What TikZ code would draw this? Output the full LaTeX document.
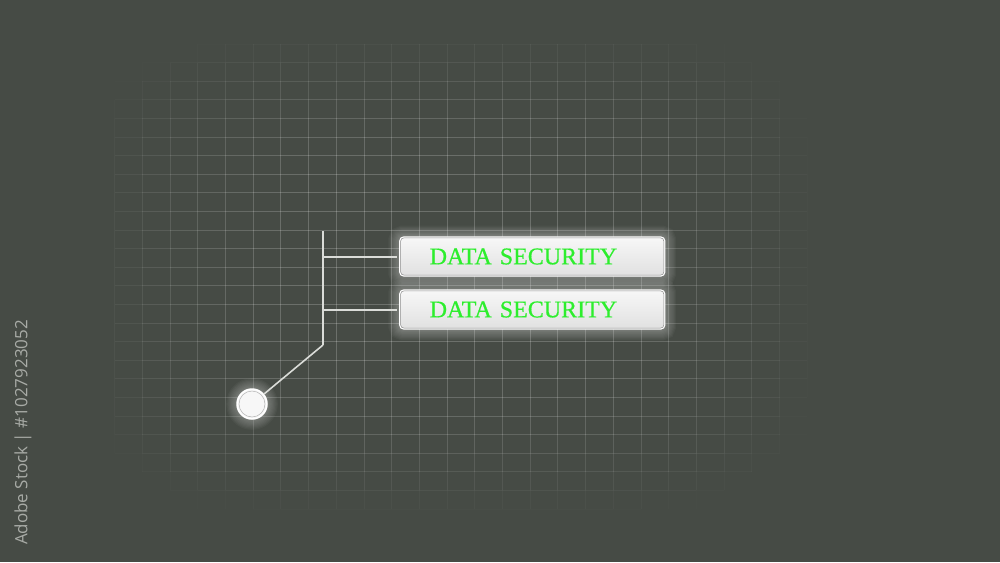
\documentclass[tikz,border=0pt]{standalone}
\usepackage{fontspec}
\setmainfont{Liberation Serif}
\newfontfamily\boxfont[FakeBold=0.6]{Liberation Serif}
\newfontfamily\sidefont{Open Sans}
\definecolor{bgc}{RGB}{70,75,69}
\definecolor{linec}{RGB}{218,220,216}
\definecolor{textgreen}{RGB}{45,238,45}
\definecolor{sidegray}{RGB}{168,171,166}
\pgfdeclarelayer{gridlayer}
\pgfdeclarelayer{glowlayer}
\pgfsetlayers{gridlayer,glowlayer,main}
\begin{document}
\begin{tikzpicture}[x=1pt,y=-1pt,
  gridline/.style={white,line width=1pt},
  wire/.style={linec,line width=1.6pt},
  databox/.style={rectangle,rounded corners=4pt,draw=white,line width=1.3pt,
    top color=white!97!black,bottom color=white!88!black,
    minimum width=265pt,minimum height=39pt,inner ysep=0pt,
    text width=205pt,inner xsep=30pt,align=left,
    font=\boxfont\fontsize{24}{26}\selectfont,text=textgreen},
  dot/.style={circle,draw=white,line width=1.5pt,fill=white!97!black,minimum size=30pt,inner sep=0pt},
  glowstroke/.style={white,opacity=0.035}
]
\useasboundingbox (0,0) rectangle (1000,562);
\begin{pgfonlayer}{gridlayer}
\fill[bgc] (0,0) rectangle (1000,562);
\foreach \i in {0,...,25}{
  \pgfmathsetmacro\gx{114.7+27.7*\i}
  \foreach \j in {0,...,24}{
    \pgfmathsetmacro\ya{44+18.6*\j}
    \pgfmathsetmacro\yb{\ya+18.6}
    \pgfmathsetmacro\gu{(\gx-450)/375}
    \pgfmathsetmacro\gv{(\ya+9.3-272)/250}
    \pgfmathsetmacro\gw{max(0,1-(\gu)*(\gu)*(\gu)*(\gu)-(\gv)*(\gv)*(\gv)*(\gv))}
    \pgfmathsetmacro\op{0.21*(\gw)^1.6}
    \draw[gridline,opacity=\op] (\gx,\ya) -- (\gx,\yb);
  }
}
\foreach \j in {0,...,25}{
  \pgfmathsetmacro\gy{44+18.6*\j}
  \foreach \i in {0,...,24}{
    \pgfmathsetmacro\xa{114.7+27.7*\i}
    \pgfmathsetmacro\xb{\xa+27.7}
    \pgfmathsetmacro\gu{(\xa+13.85-450)/375}
    \pgfmathsetmacro\gv{(\gy-272)/250}
    \pgfmathsetmacro\gw{max(0,1-(\gu)*(\gu)*(\gu)*(\gu)-(\gv)*(\gv)*(\gv)*(\gv))}
    \pgfmathsetmacro\op{0.21*(\gw)^1.6}
    \draw[gridline,opacity=\op] (\xa,\gy) -- (\xb,\gy);
  }
}
\end{pgfonlayer}

% nodes
\node[databox] (box1) at (532.25,256.5) {DATA SECURITY};
\node[databox] (box2) at (532.25,309.5) {DATA SECURITY};
\node[dot] (c) at (252,404) {};

% inner bevel lines
\draw[white!55!black,line width=0.5pt,rounded corners=3pt]
  ([shift={(1.6,1.6)}]box1.north west) rectangle ([shift={(-1.6,-1.6)}]box1.south east);
\draw[white!55!black,line width=0.5pt,rounded corners=3pt]
  ([shift={(1.6,1.6)}]box2.north west) rectangle ([shift={(-1.6,-1.6)}]box2.south east);
\draw[white!70!black,line width=0.5pt] (c.center) circle[radius=13];

% glows
\begin{pgfonlayer}{glowlayer}
\foreach \k in {1,...,9}{
  \pgfmathsetmacro\lw{2.4*\k}
  \draw[glowstroke,line width=\lw pt,rounded corners=4pt] (box1.north west) rectangle (box1.south east);
  \draw[glowstroke,line width=\lw pt,rounded corners=4pt] (box2.north west) rectangle (box2.south east);
  \draw[glowstroke,line width=\lw pt] (c.center) circle[radius=15];
}
\end{pgfonlayer}

% connectors
\coordinate (top) at (323,231);
\coordinate (bend) at (323,345);
\coordinate (j1) at (323,257);
\coordinate (j2) at (323,310);
\draw[wire] (top) -- (bend);
\draw[wire] (j1) -- ([xshift=-2.5]box1.west |- j1);
\draw[wire] (j2) -- ([xshift=-2.5]box2.west |- j2);
\draw[wire] (bend) -- (c);

% side label
\node[rotate=90,font=\sidefont\fontsize{17}{19}\selectfont,text=sidegray,inner sep=0pt] (side) at (23,432.5) {Adobe Stock | \#1027923052};
\end{tikzpicture}
\end{document}
